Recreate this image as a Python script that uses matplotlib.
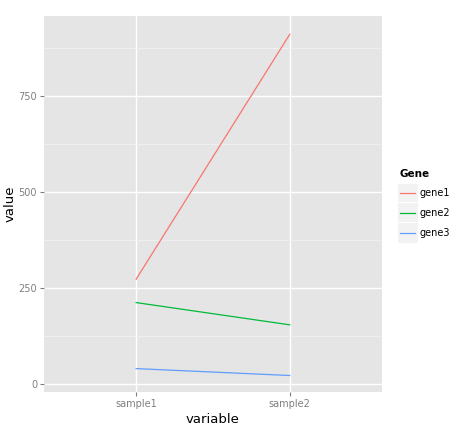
import matplotlib
matplotlib.use("Agg")
import matplotlib.pyplot as plt
from matplotlib.legend_handler import HandlerLine2D
from matplotlib.patches import Rectangle

samples = ["sample1", "sample2"]
genes = ["gene1", "gene2", "gene3"]
values = {
    "gene1": [273, 911],
    "gene2": [212, 154],
    "gene3": [40, 22],
}
colors = ["#F8766D", "#00BA38", "#619CFF"]
yticks = [0, 250, 500, 750]


class KeyHandler(HandlerLine2D):
    # ggplot style legend key: grey box behind the line
    def create_artists(self, legend, orig_handle, xdescent, ydescent,
                       width, height, fontsize, trans):
        box = Rectangle((-xdescent - 2, -ydescent - 5), width + 4, height + 10,
                        facecolor="#F2F2F2", edgecolor="white", lw=0.8,
                        transform=trans)
        arts = super().create_artists(legend, orig_handle, xdescent, ydescent,
                                      width, height, fontsize, trans)
        return [box] + arts


fig = plt.figure(figsize=(4.74, 4.29), dpi=100)
ax = fig.add_axes([0.0928, 0.0862, 0.713, 0.876])
ax.set_facecolor("#E5E5E5")

x = list(range(1, len(samples) + 1))
for g, c in zip(genes, colors):
    ax.plot(x, values[g], color=c, lw=0.9, label=g)

ax.set_xlim(0.4, 2.6)
ax.set_ylim(-21, 958)
ax.set_xticks(x)
ax.set_xticklabels(samples)
ax.set_yticks(yticks)
ax.set_yticks([125, 375, 625, 875], minor=True)

ax.grid(True, which="major", color="white", lw=1.0)
ax.grid(True, which="minor", color="#F2F2F2", lw=0.6)
ax.set_axisbelow(True)
for s in ax.spines.values():
    s.set_visible(False)

ax.tick_params(axis="both", which="major", colors="#7F7F7F", labelsize=7,
               length=3, width=0.8, pad=2)
ax.tick_params(axis="both", which="minor", length=0)

ax.set_xlabel("variable", fontsize=9.5)
ax.set_ylabel("value", fontsize=9.5)
ax.yaxis.set_label_coords(-0.08, 0.5)
ax.xaxis.set_label_coords(0.5, -0.056)

leg = fig.legend(loc="upper left", bbox_to_anchor=(0.825, 0.627),
                 title="Gene", frameon=False, fontsize=7,
                 handlelength=1.6, handletextpad=0.45, labelspacing=1.0,
                 handler_map={plt.Line2D: KeyHandler()})
leg.get_title().set_fontweight("bold")
leg.get_title().set_fontsize(7.5)
leg._legend_box.align = "left"

fig.savefig("out.png", dpi=100)
